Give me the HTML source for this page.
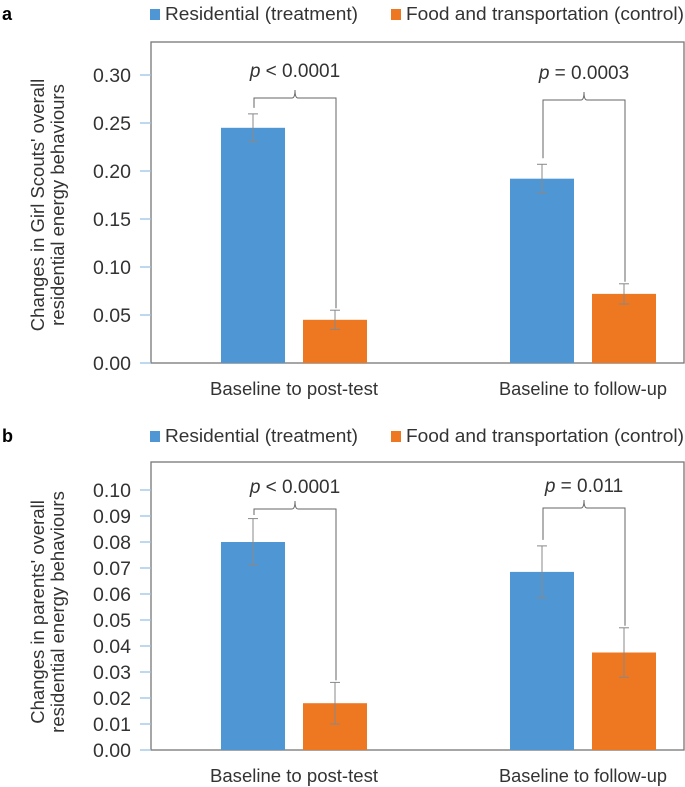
<!DOCTYPE html>
<html><head><meta charset="utf-8"><style>
html,body{margin:0;padding:0;background:#fff;}
svg{display:block;font-family:"Liberation Sans",sans-serif;}
</style></head><body>
<svg id="c" width="685" height="787" viewBox="0 0 685 787" xmlns="http://www.w3.org/2000/svg"></svg>
<script>
const categories = ["Baseline to post-test", "Baseline to follow-up"];
const seriesNames = ["Residential (treatment)", "Food and transportation (control)"];
const aTreatment = [0.245, 0.192];
const aControl = [0.045, 0.072];
const aTreatmentErr = [0.0145, 0.015];
const aControlErr = [0.010, 0.0105];
const aTicks = ["0.00","0.05","0.10","0.15","0.20","0.25","0.30"];
const aPLabels = ["< 0.0001", "= 0.0003"];
const bTreatment = [0.080, 0.0685];
const bControl = [0.018, 0.0375];
const bTreatmentErr = [0.009, 0.010];
const bControlErr = [0.008, 0.0095];
const bTicks = ["0.00","0.01","0.02","0.03","0.04","0.05","0.06","0.07","0.08","0.09","0.10"];
const bPLabels = ["< 0.0001", "= 0.011"];

const NS="http://www.w3.org/2000/svg";
const svg=document.getElementById('c');
function mk(tag,attrs,parent,text){const e=document.createElementNS(NS,tag);for(const k in attrs)e.setAttribute(k,attrs[k]);if(text!==undefined)e.textContent=text;(parent||svg).appendChild(e);return e;}
const BLUE="#4f97d4", ORANGE="#ee7722";

function panel(o){
  const g=mk('g',{});
  
  
  const y=v=>o.y0-(v/o.vmax)*(o.y0-o.yTop);
  const L=mk('text',{x:2,y:o.legY+6,'font-size':18,'font-weight':'bold',fill:'#000'},g,o.letter);
  
  
  const lg=mk('g',{},g);
  
  
  [[150,BLUE,seriesNames[0]],[391,ORANGE,seriesNames[1]]].forEach((d,i)=>{
    const e=mk('g',{},lg);
    
    
    mk('rect',{x:d[0],y:o.legY-5,width:10,height:11,fill:d[1]},e);
    mk('text',{x:d[0]+15,y:o.legY+6,'font-size':18,fill:'#333',textLength:i===0?193:278,lengthAdjust:'spacingAndGlyphs'},e,d[2]);
  });
  const f=mk('rect',{x:151,y:o.frameTop,width:533,height:o.y0-o.frameTop,fill:'none',stroke:'#777','stroke-width':1.3},g);
  
  
  const ax=mk('g',{},g);
  
  
  o.ticks.forEach(t=>{
    const v=parseFloat(t), yy=y(v);
    mk('line',{x1:140,x2:151,y1:yy,y2:yy,stroke:'#9cc3e6','stroke-width':1.3},ax);
    const tl=mk('text',{x:131,y:yy+7,'text-anchor':'end','font-size':19,fill:'#333',textLength:38,lengthAdjust:'spacingAndGlyphs'},ax,t);
    
    
  });
  const yt=mk('text',{transform:`translate(44,${o.titleY}) rotate(-90)`,'text-anchor':'middle','font-size':18.5,fill:'#333'},g);
  
  
  mk('tspan',{x:0,dy:0},yt,o.title1);
  mk('tspan',{x:0,dy:20},yt,o.title2);
  const groupX=[221,510];
  categories.forEach((c,i)=>{
    [[o.t,o.te,BLUE,0,'treatment'],[o.c,o.ce,ORANGE,82,'control']].forEach(s=>{
      const x0=groupX[i]+s[3], v=s[0][i], e=s[1][i];
      const b=mk('rect',{x:x0,y:y(v),width:64,height:o.y0-y(v),fill:s[2]},g);
      
      
      const cx=x0+32, hi=y(v+e), lo=y(v-e);
      const eb=mk('g',{stroke:'#888','stroke-width':1},g);
      
      
      mk('line',{x1:cx,x2:cx,y1:hi,y2:lo},eb);
      mk('line',{x1:cx-5,x2:cx+5,y1:hi,y2:hi},eb);
      mk('line',{x1:cx-5,x2:cx+5,y1:lo,y2:lo},eb);
    });
    const xl=mk('text',{x:groupX[i]+73,y:o.xLabY,'text-anchor':'middle','font-size':18,fill:'#333',textLength:168,lengthAdjust:'spacingAndGlyphs'},g,c);
    
    
    const lx=groupX[i]+33, rx=groupX[i]+115, mx=(lx+rx)/2, by=o.brY[i];
    const lEnd=Math.max(by+6,y(o.t[i]+o.te[i])-6), rEnd=y(o.c[i]+o.ce[i])-2;
    const br=mk('path',{d:`M${lx},${lEnd}V${by}H${mx-3}q3,0 3,-8q0,8 3,8H${rx}V${rEnd}`,fill:'none',stroke:'#666','stroke-width':1},g);
    
    
    const pt=mk('text',{x:mx,y:by-o.pOff,'text-anchor':'middle','font-size':19,fill:'#333'},g);
    
    
    mk('tspan',{'font-style':'italic'},pt,'p');
    mk('tspan',{},pt,' '+o.p[i]);
  });
}
panel({letter:'a',legY:14,frameTop:42,y0:363,yTop:75,vmax:0.30,ticks:aTicks,t:aTreatment,c:aControl,te:aTreatmentErr,ce:aControlErr,
  p:aPLabels,brY:[98,100],pOff:21,xLabY:395,titleY:205,
  title1:"Changes in Girl Scouts' overall",title2:"residential energy behaviours"});
panel({letter:'b',legY:436,frameTop:462,y0:750,yTop:490,vmax:0.10,ticks:bTicks,t:bTreatment,c:bControl,te:bTreatmentErr,ce:bControlErr,
  p:bPLabels,brY:[509,508],pOff:16,xLabY:782,titleY:612,
  title1:"Changes in parents' overall",title2:"residential energy behaviours"});
</script>
</body></html>
